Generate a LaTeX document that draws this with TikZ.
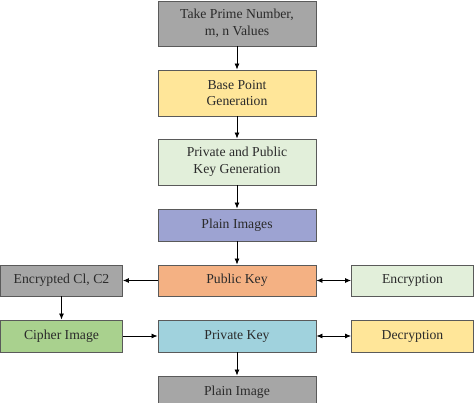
\documentclass[tikz,border=0pt]{standalone}
\usepackage{fontspec}
\setmainfont{Liberation Serif}
\usetikzlibrary{arrows.meta}
\definecolor{boxgray}{HTML}{A6A6A6}
\definecolor{boxyellow}{HTML}{FFE699}
\definecolor{boxpale}{HTML}{E2EFDA}
\definecolor{boxpurple}{HTML}{9DA3D2}
\definecolor{boxorange}{HTML}{F4B183}
\definecolor{boxgreen}{HTML}{A9D18E}
\definecolor{boxcyan}{HTML}{A0D2DD}
\definecolor{edgegray}{HTML}{5A5A5A}
\definecolor{textgray}{HTML}{2B2B2B}

\begin{document}
\begin{tikzpicture}[x=1pt,y=-1pt,
  box/.style={shape=rectangle,draw=edgegray,line width=0.9pt,align=center,
    text=textgray,font=\fontsize{13.7}{16.8}\selectfont,inner sep=0pt},
  wide/.style={box,minimum width=158pt},
  side/.style={box,minimum width=122pt,minimum height=31pt},
  >={Latex[length=6pt,width=5pt]}]
\useasboundingbox (0,0) rectangle (474,403);
\node[wide,fill=boxgray,minimum height=45pt] (P) at (237,23.5) {Take Prime Number,\\m, n Values};
\node[wide,fill=boxyellow,minimum height=46pt] (B) at (237,93) {Base Point\\Generation};
\node[wide,fill=boxpale,minimum height=46pt] (K) at (237,162) {Private and Public\\Key Generation};
\node[wide,fill=boxpurple,minimum height=32pt] (I) at (237,225) {Plain Images};
\node[wide,fill=boxorange,minimum height=31pt] (U) at (237,280.5) {Public Key};
\node[wide,fill=boxcyan,minimum height=32pt] (R) at (237,336) {Private Key};
\node[wide,fill=boxgray,minimum height=32pt] (O) at (237,392) {Plain Image};
\node[side,fill=boxgray] (E) at (61.5,280.5) {Encrypted Cl, C2};
\node[side,fill=boxgreen,minimum height=32pt] (C) at (61.5,336) {Cipher Image};
\node[side,fill=boxpale] (N) at (412.5,280.5) {Encryption};
\node[side,fill=boxyellow,minimum height=32pt] (D) at (412.5,336) {Decryption};
\path [->,draw=black,line width=0.8pt] (P) edge (B);
\path [->,draw=black,line width=0.8pt] (B) edge (K);
\path [->,draw=black,line width=0.8pt] (K) edge (I);
\path [->,draw=black,line width=0.8pt] (I) edge (U);
\path [->,draw=black,line width=0.8pt] (U) edge (E);
\path [->,draw=black,line width=0.8pt] (E) edge (C);
\path [->,draw=black,line width=0.8pt] (C) edge (R);
\path [<->,draw=black,line width=0.8pt] (U) edge (N);
\path [<->,draw=black,line width=0.8pt] (R) edge (D);
\path [->,draw=black,line width=0.8pt] (R) edge (O);
\end{tikzpicture}
\end{document}
